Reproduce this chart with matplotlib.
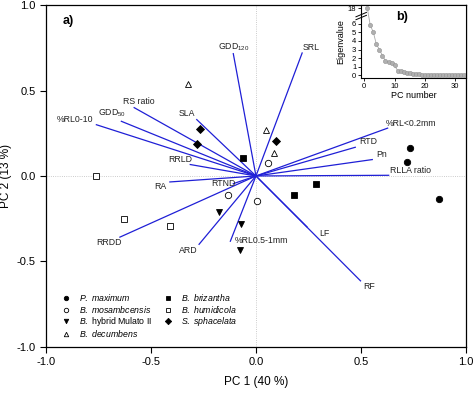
import numpy as np
import matplotlib
matplotlib.use("Agg")
import matplotlib.pyplot as plt
from matplotlib.lines import Line2D

plt.rcParams['font.family'] = ['Liberation Sans', 'DejaVu Sans']
plt.rcParams['axes.unicode_minus'] = False
plt.rcParams['mathtext.fontset'] = 'custom'
plt.rcParams['mathtext.it'] = 'Liberation Sans:italic'
plt.rcParams['mathtext.rm'] = 'Liberation Sans'

# species scores (PC1, PC2)
species = ["P. maximum", "B. mosambcensis", "B. hybrid Mulato II", "B. decumbens",
           "B. brizantha", "B. humidicola", "S. sphacelata"]
pc1_scores = [
    [0.733, 0.720, 0.870],
    [0.056, -0.135, 0.003],
    [-0.176, -0.071, -0.075],
    [-0.325, 0.048, 0.084],
    [-0.063, 0.287, 0.182],
    [-0.762, -0.630, -0.408],
    [-0.268, -0.280, 0.097],
]
pc2_scores = [
    [0.164, 0.082, -0.135],
    [0.078, -0.113, -0.148],
    [-0.210, -0.283, -0.434],
    [0.540, 0.267, 0.135],
    [0.107, -0.047, -0.113],
    [0.000, -0.250, -0.294],
    [0.275, 0.185, 0.203],
]

# trait loadings
traits = ["GDD120", "SRL", "SLA", "RS ratio", "GDD50", "%RL0-10", "RRLD", "RA",
          "RTND", "RRDD", "ARD", "%RL0.5-1mm", "LF", "RF", "%RL<0.2mm", "RTD",
          "Pn", "RLLA ratio"]
load_pc1 = [-0.108, 0.220, -0.282, -0.580, -0.641, -0.760, -0.313, -0.410,
            -0.108, -0.648, -0.271, -0.122, 0.243, 0.498, 0.627, 0.473, 0.554, 0.632]
load_pc2 = [0.716, 0.720, 0.330, 0.400, 0.320, 0.300, 0.067, -0.035,
            -0.045, -0.358, -0.400, -0.382, -0.298, -0.614, 0.280, 0.168, 0.096, 0.004]
trait_text = {"GDD120": r"GDD$_{120}$", "GDD50": r"GDD$_{50}$"}

# eigenvalues
pc_number = list(range(1, 34))
eigenvalues = [18.0, 5.8, 5.0, 3.6, 3.0, 2.3, 1.7, 1.5, 1.4, 1.15, 0.55, 0.5, 0.42,
               0.33, 0.27, 0.22, 0.17, 0.13, 0.1, 0.08, 0.06, 0.05, 0.04, 0.03, 0.03,
               0.02, 0.02, 0.02, 0.01, 0.01, 0.01, 0.01, 0.01]

# layout of trait labels (data coords, left aligned)
label_pos = {
    "GDD120": (-0.181, 0.753), "SRL": (0.222, 0.754), "SLA": (-0.370, 0.365),
    "RS ratio": (-0.635, 0.433), "GDD50": (-0.754, 0.370), "%RL0-10": (-0.949, 0.330),
    "RRLD": (-0.420, 0.098), "RA": (-0.484, -0.064), "RTND": (-0.214, -0.044),
    "RRDD": (-0.759, -0.390), "ARD": (-0.367, -0.435), "%RL0.5-1mm": (-0.099, -0.376),
    "LF": (0.303, -0.337), "RF": (0.513, -0.645), "%RL<0.2mm": (0.616, 0.310),
    "RTD": (0.494, 0.199), "Pn": (0.571, 0.127), "RLLA ratio": (0.637, 0.033),
}
styles = [
    dict(marker="o", mfc="black", mec="black"),
    dict(marker="o", mfc="white", mec="black"),
    dict(marker="v", mfc="black", mec="black"),
    dict(marker="^", mfc="white", mec="black"),
    dict(marker="s", mfc="black", mec="black"),
    dict(marker="s", mfc="white", mec="black"),
    dict(marker="D", mfc="black", mec="black"),
]
legend_labels = [r"$\it{P.\ maximum}$", r"$\it{B.\ mosambcensis}$",
                 r"$\it{B.}$ hybrid Mulato II", r"$\it{B.\ decumbens}$",
                 r"$\it{B.\ brizantha}$", r"$\it{B.\ humidicola}$",
                 r"$\it{S.\ sphacelata}$"]

fig = plt.figure(figsize=(4.74, 3.95), dpi=100)
ax = fig.add_axes([0.097, 0.122, 0.886, 0.865])
ax.axhline(0, color="#bbbbbb", lw=0.6, ls=":", zorder=0)
ax.axvline(0, color="#bbbbbb", lw=0.6, ls=":", zorder=0)

for t, lx, ly in zip(traits, load_pc1, load_pc2):
    ax.plot([0, lx], [0, ly], color="#1f1fd6", lw=0.9, zorder=1)
    tx, ty = label_pos[t]
    ax.text(tx, ty, trait_text.get(t, t), fontsize=6.3, ha="left", va="center",
            color="#222222")

for xs, ys, st in zip(pc1_scores, pc2_scores, styles):
    ms = 4.2 if st["marker"] == "D" else 4.6
    ax.plot(xs, ys, ls="none", ms=ms, mew=0.6, zorder=3, **st)

ax.set_xlim(-1, 1)
ax.set_ylim(-1, 1)
ticks = [-1.0, -0.5, 0.0, 0.5, 1.0]
ax.set_xticks(ticks)
ax.set_yticks(ticks)
ax.set_xticklabels([f"{v:.1f}" for v in ticks])
ax.set_yticklabels([f"{v:.1f}" for v in ticks])
ax.tick_params(labelsize=8, length=4, width=0.8, direction="out")
for s in ax.spines.values():
    s.set_linewidth(0.9)
ax.set_xlabel("PC 1 (40 %)", fontsize=8.5, labelpad=6)
ax.set_ylabel("PC 2 (13 %)", fontsize=8.5)
ax.yaxis.set_label_coords(-0.08, 0.5)
ax.text(0.04, 0.955, "a)", transform=ax.transAxes, fontsize=9, fontweight="bold",
        va="center")

handles = [Line2D([], [], ls="none", ms=3.2, mew=0.6, **st) for st in styles]
leg = ax.legend(handles, legend_labels,
                ncol=2, loc="lower left", bbox_to_anchor=(0.03, 0.012),
                frameon=False, fontsize=6.3, handlelength=1.0, handletextpad=0.9,
                columnspacing=1.4, labelspacing=0.03, borderaxespad=0)

# inset with eigenvalues (broken y axis above 6.5)
def fwd(y):
    y = np.asarray(y, dtype=float)
    return np.where(y <= 6.5, y, 6.5 + (y - 6.5) * 0.113)

def inv(y):
    y = np.asarray(y, dtype=float)
    return np.where(y <= 6.5, y, 6.5 + (y - 6.5) / 0.113)

axi = fig.add_axes([0.762, 0.8025, 0.221, 0.1845])
axi.set_yscale("function", functions=(fwd, inv))
axi.plot(pc_number, eigenvalues, color="#aaaaaa", lw=0.6, marker="o", ms=3,
         mfc="#b0b0b0", mec="#909090", mew=0.4)
axi.set_xlim(-1, 33.5)
axi.set_ylim(-0.3, 21)
axi.set_yticks([0, 1, 2, 3, 4, 5, 6, 18])
axi.set_yticklabels(["0", "1", "2", "3", "4", "5", "6", "18"])
axi.set_xticks([0, 10, 20, 30])
axi.tick_params(labelsize=5.5, length=2, width=0.6, pad=1.5)
for s in axi.spines.values():
    s.set_linewidth(0.8)
axi.set_xlabel("PC number", fontsize=6.5, labelpad=1)
axi.set_ylabel("Eigenvalue", fontsize=6.5, labelpad=2)
axi.plot([-0.05, 0.05], [0.80, 0.86], transform=axi.transAxes, color="black",
         lw=0.7, clip_on=False)
axi.plot([-0.05, 0.05], [0.84, 0.90], transform=axi.transAxes, color="black",
         lw=0.7, clip_on=False)
axi.text(0.33, 0.84, "b)", transform=axi.transAxes, fontsize=9, fontweight="bold",
         va="center")

fig.savefig("out.png", dpi=100)
